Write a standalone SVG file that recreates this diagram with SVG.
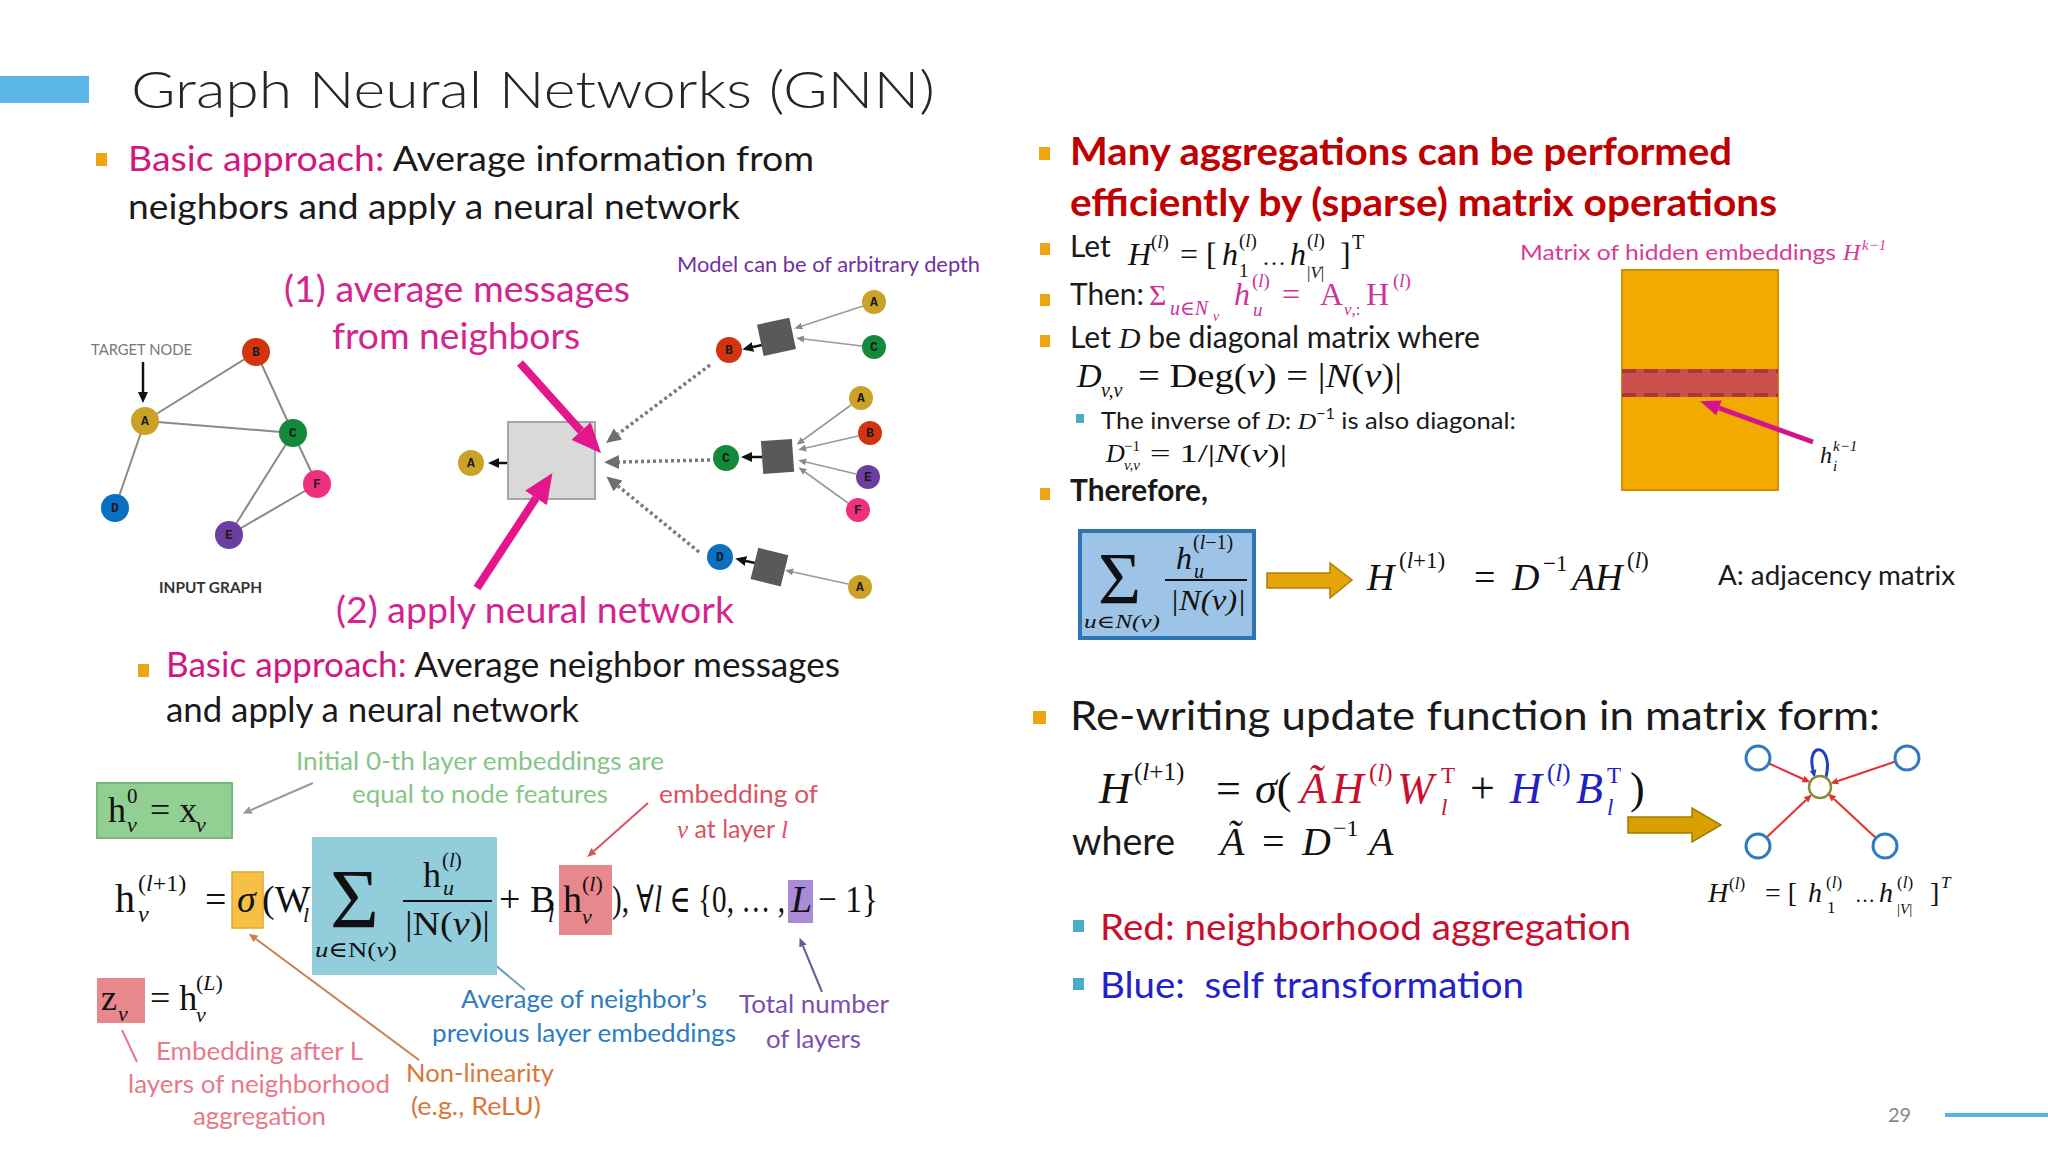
<svg xmlns="http://www.w3.org/2000/svg" width="2048" height="1152" viewBox="0 0 2048 1152">
<style>
.sans{font-family:Lato,"Open Sans","Liberation Sans",sans-serif}
.serif{font-family:"Liberation Serif","DejaVu Serif",serif}
.it{font-style:italic}
.bold{font-weight:bold}
.mag{fill:#D2177F}
.blk{fill:#1a1a1a}
.nl{font-family:"Liberation Mono","DejaVu Sans Mono",monospace;font-weight:bold;font-size:13px;fill:#1a1a1a;text-anchor:middle}
.edge{stroke:#8a8a8a;stroke-width:2;fill:none}
.dot{stroke:#7a7a7a;stroke-width:3.5;stroke-dasharray:3 3;fill:none}
.thin{stroke:#9a9a9a;stroke-width:1.6;fill:none}
.blkarr{stroke:#111;stroke-width:2.5;fill:none}
.magarr{stroke:#E3168C;stroke-width:8;fill:none}
.bul{fill:#EDA512}
.tbul{fill:#4BACC6}
.m{font-family:"Liberation Serif","DejaVu Serif",serif}
</style>
<defs>
<marker id="hMag" markerUnits="userSpaceOnUse" markerWidth="30" markerHeight="30" viewBox="0 0 30 30" refX="0" refY="15" orient="auto"><path d="M0,2 L30,15 L0,28 z" fill="#E3168C"/></marker>
<marker id="hMag2" markerUnits="userSpaceOnUse" markerWidth="20" markerHeight="20" viewBox="0 0 20 20" refX="0" refY="10" orient="auto"><path d="M0,2 L20,10 L0,18 z" fill="#D4148C"/></marker>
<marker id="hGray" markerUnits="userSpaceOnUse" markerWidth="16" markerHeight="16" viewBox="0 0 16 16" refX="0" refY="8" orient="auto"><path d="M0,1 L15,8 L0,15 z" fill="#6f6f6f"/></marker>
<marker id="hBlk" markerUnits="userSpaceOnUse" markerWidth="12" markerHeight="12" viewBox="0 0 12 12" refX="0" refY="6" orient="auto"><path d="M0,1 L11,6 L0,11 z" fill="#111"/></marker>
<marker id="hThin" markerUnits="userSpaceOnUse" markerWidth="9" markerHeight="9" viewBox="0 0 9 9" refX="0" refY="4.5" orient="auto"><path d="M0,1 L8,4.5 L0,8 z" fill="#8a8a8a"/></marker>
<marker id="hRed" markerUnits="userSpaceOnUse" markerWidth="9" markerHeight="9" viewBox="0 0 9 9" refX="0" refY="4.5" orient="auto"><path d="M0,1 L8,4.5 L0,8 z" fill="#E03030"/></marker>
<marker id="hBlue" markerUnits="userSpaceOnUse" markerWidth="9" markerHeight="9" viewBox="0 0 9 9" refX="0" refY="4.5" orient="auto"><path d="M0,1 L8,4.5 L0,8 z" fill="#1f3fc0"/></marker>
<marker id="hAnnGray" markerUnits="userSpaceOnUse" markerWidth="10" markerHeight="10" viewBox="0 0 10 10" refX="0" refY="5" orient="auto"><path d="M0,1 L9,5 L0,9 z" fill="#9a9a9a"/></marker>
<marker id="hAnnRed" markerUnits="userSpaceOnUse" markerWidth="10" markerHeight="10" viewBox="0 0 10 10" refX="0" refY="5" orient="auto"><path d="M0,1 L9,5 L0,9 z" fill="#D9535F"/></marker>
<marker id="hAnnOr" markerUnits="userSpaceOnUse" markerWidth="10" markerHeight="10" viewBox="0 0 10 10" refX="0" refY="5" orient="auto"><path d="M0,1 L9,5 L0,9 z" fill="#C98050"/></marker>
<marker id="hAnnPu" markerUnits="userSpaceOnUse" markerWidth="10" markerHeight="10" viewBox="0 0 10 10" refX="0" refY="5" orient="auto"><path d="M0,1 L9,5 L0,9 z" fill="#6a5a9a"/></marker>
</defs>

<rect width="2048" height="1152" fill="#ffffff"/>

<!-- Title -->
<g id="title">
<rect x="0" y="76" width="89" height="27" fill="#5DB6E8"/>
<text x="131" y="108" class="sans" font-size="52" font-weight="300" fill="#262626" textLength="804" lengthAdjust="spacingAndGlyphs">Graph Neural Networks (GNN)</text>
</g>

<!-- Left top bullet -->
<g id="left-intro">
<rect x="96" y="153" width="11" height="13" class="bul"/>
<text x="128" y="171" class="sans blk" font-size="34" textLength="686" lengthAdjust="spacingAndGlyphs"><tspan class="mag">Basic approach:</tspan> Average information from</text>
<text x="128" y="219" class="sans blk" font-size="34" textLength="612" lengthAdjust="spacingAndGlyphs">neighbors and apply a neural network</text>
<text x="284" y="302" class="sans" font-size="37" fill="#D4258F" textLength="346" lengthAdjust="spacingAndGlyphs">(1) average messages</text>
<text x="332" y="349" class="sans" font-size="37" fill="#D4258F" textLength="248" lengthAdjust="spacingAndGlyphs">from neighbors</text>
<text x="336" y="623" class="sans" font-size="37" fill="#D4258F" textLength="398" lengthAdjust="spacingAndGlyphs">(2) apply neural network</text>
<text x="677" y="272" class="sans" font-size="21" fill="#7030A0" textLength="303" lengthAdjust="spacingAndGlyphs">Model can be of arbitrary depth</text>
<text x="91" y="355" class="sans" font-size="15" fill="#777" textLength="101" lengthAdjust="spacingAndGlyphs">TARGET NODE</text>
<text x="159" y="593" class="sans bold" font-size="16" fill="#333" textLength="103" lengthAdjust="spacingAndGlyphs">INPUT GRAPH</text>
</g>

<!-- Connectors -->
<g id="connectors">
<line x1="145" y1="421" x2="256" y2="352" class="edge"/>
<line x1="145" y1="421" x2="293" y2="433" class="edge"/>
<line x1="256" y1="352" x2="293" y2="433" class="edge"/>
<line x1="145" y1="421" x2="115" y2="508" class="edge"/>
<line x1="293" y1="433" x2="317" y2="484" class="edge"/>
<line x1="293" y1="433" x2="229" y2="535" class="edge"/>
<line x1="229" y1="535" x2="317" y2="484" class="edge"/>
<line x1="143" y1="362" x2="143" y2="392" class="blkarr" stroke-width="1.8" marker-end="url(#hBlk)"/>
<line x1="710" y1="365" x2="618" y2="434" class="dot" marker-end="url(#hGray)"/>
<line x1="710" y1="460" x2="619" y2="462" class="dot" marker-end="url(#hGray)"/>
<line x1="699" y1="552" x2="618" y2="486" class="dot" marker-end="url(#hGray)"/>
<line x1="508" y1="463" x2="499" y2="463" class="blkarr" marker-end="url(#hBlk)"/>
<line x1="762" y1="345" x2="753" y2="347" class="blkarr" marker-end="url(#hBlk)"/>
<line x1="762" y1="457" x2="752" y2="457" class="blkarr" marker-end="url(#hBlk)"/>
<line x1="755" y1="563" x2="746" y2="561" class="blkarr" marker-end="url(#hBlk)"/>
<line x1="863" y1="306" x2="802" y2="326" class="thin" marker-end="url(#hThin)"/>
<line x1="862" y1="346" x2="804" y2="339" class="thin" marker-end="url(#hThin)"/>
<line x1="851" y1="405" x2="803" y2="440" class="thin" marker-end="url(#hThin)"/>
<line x1="858" y1="436" x2="806" y2="448" class="thin" marker-end="url(#hThin)"/>
<line x1="856" y1="474" x2="806" y2="462" class="thin" marker-end="url(#hThin)"/>
<line x1="848" y1="503" x2="805" y2="472" class="thin" marker-end="url(#hThin)"/>
<line x1="848" y1="584" x2="793" y2="572" class="thin" marker-end="url(#hThin)"/>
<line x1="313" y1="783" x2="251" y2="810" stroke="#9a9a9a" stroke-width="2" marker-end="url(#hAnnGray)"/>
<line x1="648" y1="803" x2="594" y2="851" stroke="#D9535F" stroke-width="2" marker-end="url(#hAnnRed)"/>
<line x1="419" y1="1060" x2="256" y2="939" stroke="#C98050" stroke-width="2" marker-end="url(#hAnnOr)"/>
<line x1="525" y1="990" x2="469" y2="943" stroke="#6CA0C0" stroke-width="2"/>
<line x1="822" y1="992" x2="803" y2="946" stroke="#6a5a9a" stroke-width="2" marker-end="url(#hAnnPu)"/>
<line x1="137" y1="1062" x2="122" y2="1030" stroke="#E8788A" stroke-width="2"/>
<line x1="1768" y1="763" x2="1803" y2="779" stroke="#E03030" stroke-width="2" marker-end="url(#hRed)"/>
<line x1="1897" y1="761" x2="1838" y2="781" stroke="#E03030" stroke-width="2" marker-end="url(#hRed)"/>
<line x1="1766" y1="838" x2="1806" y2="800" stroke="#E03030" stroke-width="2" marker-end="url(#hRed)"/>
<line x1="1877" y1="839" x2="1834" y2="799" stroke="#E03030" stroke-width="2" marker-end="url(#hRed)"/>
<path d="M1826,777 C1834,744 1806,740 1813,770" stroke="#1f3fc0" stroke-width="3" fill="none" marker-end="url(#hBlue)"/>
</g>

<!-- Input graph nodes -->
<g id="ig-A"><circle cx="145" cy="421" r="14" fill="#C9A227"/><text x="145" y="425" class="nl">A</text></g>
<g id="ig-B"><circle cx="256" cy="352" r="14" fill="#D2340F"/><text x="256" y="356" class="nl">B</text></g>
<g id="ig-C"><circle cx="293" cy="433" r="14" fill="#12893B"/><text x="293" y="437" class="nl">C</text></g>
<g id="ig-D"><circle cx="115" cy="508" r="14" fill="#0B6FC2"/><text x="115" y="512" class="nl">D</text></g>
<g id="ig-E"><circle cx="229" cy="535" r="14" fill="#6B3FA0"/><text x="229" y="539" class="nl">E</text></g>
<g id="ig-F"><circle cx="317" cy="484" r="14" fill="#F0307F"/><text x="317" y="488" class="nl">F</text></g>

<!-- Computation graph nodes -->
<g id="cg-A0"><circle cx="471" cy="463" r="13" fill="#C9A227"/><text x="471" y="467" class="nl">A</text></g>
<g id="cg-agg0"><rect x="508" y="422" width="87" height="77" fill="#D9D9D9" stroke="#a6a6a6" stroke-width="2"/></g>
<g id="cg-B1"><circle cx="729" cy="350" r="13" fill="#D2340F"/><text x="729" y="354" class="nl">B</text></g>
<g id="cg-C1"><circle cx="726" cy="458" r="13" fill="#12893B"/><text x="726" y="462" class="nl">C</text></g>
<g id="cg-D1"><circle cx="720" cy="557" r="13" fill="#0B6FC2"/><text x="720" y="561" class="nl">D</text></g>
<g id="cg-aggB"><rect x="760" y="321" width="33" height="32" fill="#595959" transform="rotate(-12 776 337)"/></g>
<g id="cg-aggC"><rect x="762" y="440" width="31" height="33" fill="#595959" transform="rotate(-4 777 456)"/></g>
<g id="cg-aggD"><rect x="754" y="551" width="31" height="32" fill="#595959" transform="rotate(14 769 567)"/></g>
<g id="cg-B-A"><circle cx="874" cy="302" r="12" fill="#C9A227"/><text x="874" y="306" class="nl">A</text></g>
<g id="cg-B-C"><circle cx="874" cy="347" r="12" fill="#12893B"/><text x="874" y="351" class="nl">C</text></g>
<g id="cg-C-A"><circle cx="861" cy="398" r="12" fill="#C9A227"/><text x="861" y="402" class="nl">A</text></g>
<g id="cg-C-B"><circle cx="870" cy="433" r="12" fill="#D2340F"/><text x="870" y="437" class="nl">B</text></g>
<g id="cg-C-E"><circle cx="868" cy="477" r="12" fill="#6B3FA0"/><text x="868" y="481" class="nl">E</text></g>
<g id="cg-C-F"><circle cx="858" cy="510" r="12" fill="#F0307F"/><text x="858" y="514" class="nl">F</text></g>
<g id="cg-D-A"><circle cx="860" cy="587" r="12" fill="#C9A227"/><text x="860" y="591" class="nl">A</text></g>

<!-- Second bullet -->
<g id="left-bullet2">
<rect x="138" y="664" width="11" height="13" class="bul"/>
<text x="166" y="677" class="sans blk" font-size="34" textLength="674" lengthAdjust="spacingAndGlyphs"><tspan class="mag">Basic approach:</tspan> Average neighbor messages</text>
<text x="166" y="722" class="sans blk" font-size="34" textLength="413" lengthAdjust="spacingAndGlyphs">and apply a neural network</text>
</g>

<!-- Annotations left -->
<g id="left-annotations" class="sans" font-size="25">
<text x="296" y="770" fill="#86C586" textLength="368" lengthAdjust="spacingAndGlyphs">Initial 0-th layer embeddings are</text>
<text x="352" y="803" fill="#86C586" textLength="256" lengthAdjust="spacingAndGlyphs">equal to node features</text>
<text x="659" y="803" fill="#D9535F" textLength="159" lengthAdjust="spacingAndGlyphs">embedding of</text>
<text x="677" y="838" fill="#D9535F"><tspan class="serif it">v</tspan> at layer <tspan class="serif it">l</tspan></text>
<text x="156" y="1060" fill="#E8788A" textLength="207" lengthAdjust="spacingAndGlyphs">Embedding after L</text>
<text x="128" y="1093" fill="#E8788A" textLength="262" lengthAdjust="spacingAndGlyphs">layers of neighborhood</text>
<text x="193" y="1125" fill="#E8788A" textLength="133" lengthAdjust="spacingAndGlyphs">aggregation</text>
<text x="406" y="1082" fill="#D9773A" textLength="148" lengthAdjust="spacingAndGlyphs">Non-linearity</text>
<text x="411" y="1115" fill="#D9773A" textLength="130" lengthAdjust="spacingAndGlyphs">(e.g., ReLU)</text>
<text x="461" y="1008" fill="#2E7BC0" textLength="246" lengthAdjust="spacingAndGlyphs">Average of neighbor’s</text>
<text x="432" y="1042" fill="#2E7BC0" textLength="304" lengthAdjust="spacingAndGlyphs">previous layer embeddings</text>
<text x="739" y="1013" fill="#7B4FB0" textLength="150" lengthAdjust="spacingAndGlyphs">Total number</text>
<text x="766" y="1048" fill="#7B4FB0" textLength="95" lengthAdjust="spacingAndGlyphs">of layers</text>
</g>

<!-- Left equations -->
<g id="eq-init">
<rect x="97" y="783" width="135" height="55" fill="#92CF92" stroke="#78B878" stroke-width="2"/>
<text x="108" y="822" class="m" font-size="36" fill="#111">h</text>
<text x="127" y="803" class="m" font-size="21" fill="#111">0</text>
<text x="127" y="832" class="m it" font-size="22" fill="#111">v</text>
<text x="150" y="822" class="m" font-size="36" fill="#111">= x</text>
<text x="196" y="832" class="m it" font-size="22" fill="#111">v</text>
</g>

<g id="eq-update">
<rect x="232" y="872" width="31" height="56" fill="#F6C046" stroke="#E0A830" stroke-width="1.5"/>
<rect x="312" y="837" width="185" height="138" fill="#92CDDC"/>
<rect x="559" y="865" width="53" height="70" fill="#E8878C"/>
<rect x="788" y="880" width="25" height="43" fill="#A98BD8"/>
<text x="115" y="912" class="m" font-size="40" fill="#111">h</text>
<text x="138" y="891" class="m" font-size="24" fill="#111">(<tspan class="it">l</tspan>+1)</text>
<text x="138" y="922" class="m it" font-size="24" fill="#111">v</text>
<text x="205" y="912" class="m" font-size="38" fill="#111">=</text>
<text x="237" y="912" class="m it" font-size="38" fill="#111">σ</text>
<text x="262" y="912" class="m" font-size="38" fill="#111">(W</text>
<text x="303" y="922" class="m it" font-size="22" fill="#111">l</text>
<text x="330" y="928" class="m" font-size="84" fill="#111">Σ</text>
<text x="315" y="957" class="m" font-size="22" fill="#111" textLength="82" lengthAdjust="spacingAndGlyphs"><tspan class="it">u</tspan>∈N(<tspan class="it">v</tspan>)</text>
<text x="423" y="887" class="m" font-size="36" fill="#111">h</text>
<text x="442" y="867" class="m" font-size="21" fill="#111">(<tspan class="it">l</tspan>)</text>
<text x="443" y="895" class="m it" font-size="22" fill="#111">u</text>
<line x1="403" y1="901" x2="492" y2="901" stroke="#111" stroke-width="2"/>
<text x="405" y="935" class="m" font-size="34" fill="#111" textLength="85" lengthAdjust="spacingAndGlyphs">|N(<tspan class="it">v</tspan>)|</text>
<text x="499" y="912" class="m" font-size="38" fill="#111">+ B</text>
<text x="548" y="922" class="m it" font-size="22" fill="#111">l</text>
<text x="563" y="912" class="m" font-size="38" fill="#111">h</text>
<text x="582" y="891" class="m" font-size="22" fill="#111">(<tspan class="it">l</tspan>)</text>
<text x="582" y="924" class="m it" font-size="22" fill="#111">v</text>
<text x="612" y="912" class="m" font-size="38" fill="#111" textLength="173" lengthAdjust="spacingAndGlyphs">), ∀<tspan class="it">l</tspan> ∈ {0, … ,</text>
<text x="791" y="912" class="m it" font-size="38" fill="#111">L</text>
<text x="818" y="912" class="m" font-size="38" fill="#111" textLength="60" lengthAdjust="spacingAndGlyphs">− 1}</text>
</g>

<g id="eq-zv">
<rect x="97" y="978" width="48" height="45" fill="#E8878C"/>
<text x="101" y="1010" class="m" font-size="36" fill="#111">z</text>
<text x="118" y="1021" class="m it" font-size="22" fill="#111">v</text>
<text x="150" y="1010" class="m" font-size="36" fill="#111">= h</text>
<text x="196" y="990" class="m" font-size="22" fill="#111">(<tspan class="it">L</tspan>)</text>
<text x="196" y="1022" class="m it" font-size="22" fill="#111">v</text>
</g>

<!-- Right column -->
<g id="right-top">
<rect x="1039" y="147" width="11" height="13" class="bul"/>
<text x="1070" y="165" class="sans bold" font-size="38" fill="#C00000" textLength="662" lengthAdjust="spacingAndGlyphs">Many aggregations can be performed</text>
<text x="1070" y="216" class="sans bold" font-size="38" fill="#C00000" textLength="707" lengthAdjust="spacingAndGlyphs">efficiently by (sparse) matrix operations</text>

<rect x="1040" y="243" width="10" height="12" class="bul"/>
<text x="1070" y="257" class="sans blk" font-size="30">Let</text>
<text x="1128" y="265" class="m it" font-size="32" fill="#111">H</text>
<text x="1151" y="248" class="m" font-size="19" fill="#111">(<tspan class="it">l</tspan>)</text>
<text x="1180" y="265" class="m" font-size="32" fill="#111">= [</text>
<text x="1222" y="265" class="m it" font-size="32" fill="#111">h</text>
<text x="1239" y="247" class="m" font-size="19" fill="#111">(<tspan class="it">l</tspan>)</text>
<text x="1239" y="277" class="m" font-size="19" fill="#111">1</text>
<text x="1262" y="265" class="m" font-size="24" fill="#111">…</text>
<text x="1290" y="265" class="m it" font-size="32" fill="#111">h</text>
<text x="1307" y="247" class="m" font-size="19" fill="#111">(<tspan class="it">l</tspan>)</text>
<text x="1307" y="278" class="m" font-size="17" fill="#111">|<tspan class="it">V</tspan>|</text>
<text x="1340" y="265" class="m" font-size="32" fill="#111">]</text>
<text x="1352" y="249" class="m" font-size="20" fill="#111">T</text>

<rect x="1040" y="294" width="10" height="12" class="bul"/>
<text x="1070" y="305" class="sans blk" font-size="30" textLength="74" lengthAdjust="spacingAndGlyphs">Then:</text>
<g fill="#CC3399">
<text x="1149" y="305" class="m" font-size="30">Σ</text>
<text x="1170" y="315" class="m it" font-size="20">u<tspan font-style="normal">∈</tspan>N</text>
<text x="1213" y="321" class="m it" font-size="14">v</text>
<text x="1234" y="305" class="m it" font-size="32">h</text>
<text x="1252" y="287" class="m" font-size="19">(<tspan class="it">l</tspan>)</text>
<text x="1253" y="316" class="m it" font-size="19">u</text>
<text x="1282" y="305" class="m" font-size="32">=</text>
<text x="1320" y="305" class="m" font-size="32">A</text>
<text x="1344" y="315" class="m" font-size="17"><tspan class="it">v</tspan>,:</text>
<text x="1366" y="305" class="m" font-size="32">H</text>
<text x="1393" y="287" class="m" font-size="19">(<tspan class="it">l</tspan>)</text>
</g>

<rect x="1040" y="335" width="10" height="12" class="bul"/>
<text x="1070" y="348" class="sans blk" font-size="30" textLength="410" lengthAdjust="spacingAndGlyphs">Let <tspan class="serif it">D</tspan> be diagonal matrix where</text>
<text x="1077" y="387" class="m it" font-size="34" fill="#111">D</text>
<text x="1101" y="397" class="m it" font-size="20" fill="#111">v,v</text>
<text x="1138" y="387" class="m" font-size="34" fill="#111" textLength="264" lengthAdjust="spacingAndGlyphs">= Deg(<tspan class="it">v</tspan>) = |<tspan class="it">N</tspan>(<tspan class="it">v</tspan>)|</text>

<rect x="1076" y="414" width="8" height="9" class="tbul"/>
<text x="1101" y="429" class="sans blk" font-size="24" textLength="415" lengthAdjust="spacingAndGlyphs">The inverse of <tspan class="serif it">D</tspan>: <tspan class="serif it">D</tspan><tspan dy="-10" font-size="15">−1</tspan><tspan dy="10"> is also diagonal:</tspan></text>
<text x="1106" y="462" class="m it" font-size="26" fill="#111">D</text>
<text x="1124" y="451" class="m" font-size="15" fill="#111">−1</text>
<text x="1124" y="470" class="m it" font-size="15" fill="#111">v,v</text>
<text x="1150" y="462" class="m" font-size="26" fill="#111" textLength="137" lengthAdjust="spacingAndGlyphs">= 1/|<tspan class="it">N</tspan>(<tspan class="it">v</tspan>)|</text>

<rect x="1040" y="488" width="10" height="12" class="bul"/>
<text x="1070" y="501" class="sans bold blk" font-size="30" textLength="138" lengthAdjust="spacingAndGlyphs">Therefore,</text>
</g>

<g id="matrix">
<text x="1520" y="260" class="sans" font-size="22" fill="#D63C96" textLength="316" lengthAdjust="spacingAndGlyphs">Matrix of hidden embeddings</text>
<text x="1843" y="260" class="m it" font-size="24" fill="#D63C96">H</text>
<text x="1862" y="250" class="m it" font-size="15" fill="#D63C96">k−1</text>
<rect x="1622" y="270" width="156" height="220" fill="#F2A900" stroke="#D48F00" stroke-width="2"/>
<rect x="1622" y="369" width="156" height="28" fill="#C9504C"/>
<line x1="1622" y1="371" x2="1778" y2="371" stroke="#A83838" stroke-width="4" stroke-dasharray="14 8"/>
<line x1="1622" y1="395" x2="1778" y2="395" stroke="#A83838" stroke-width="4" stroke-dasharray="14 8"/>
<text x="1820" y="463" class="m it" font-size="24" fill="#111">h</text>
<text x="1833" y="451" class="m it" font-size="15" fill="#111">k−1</text>
<text x="1833" y="471" class="m it" font-size="15" fill="#111">i</text>
</g>

<g id="eq-matrix-avg">
<rect x="1080" y="531" width="174" height="107" fill="#9DC3E6" stroke="#2E75B6" stroke-width="4"/>
<text x="1098" y="604" class="m" font-size="74" fill="#111">Σ</text>
<text x="1084" y="628" class="m it" font-size="18" fill="#111" textLength="76" lengthAdjust="spacingAndGlyphs">u<tspan font-style="normal">∈</tspan>N(v)</text>
<text x="1176" y="569" class="m it" font-size="32" fill="#111">h</text>
<text x="1193" y="549" class="m" font-size="20" fill="#111">(<tspan class="it">l</tspan>−1)</text>
<text x="1194" y="578" class="m it" font-size="20" fill="#111">u</text>
<line x1="1165" y1="580" x2="1247" y2="580" stroke="#111" stroke-width="2"/>
<text x="1170" y="610" class="m it" font-size="30" fill="#111" textLength="76" lengthAdjust="spacingAndGlyphs">|N(v)|</text>
<polygon points="1267,573 1330,573 1330,563 1352,580 1330,598 1330,588 1267,588" fill="#E5A50A" stroke="#B07F00" stroke-width="1.5"/>
<text x="1367" y="590" class="m it" font-size="38" fill="#111">H</text>
<text x="1399" y="568" class="m" font-size="23" fill="#111">(<tspan class="it">l</tspan>+1)</text>
<text x="1474" y="590" class="m" font-size="38" fill="#111">=</text>
<text x="1512" y="590" class="m it" font-size="38" fill="#111">D</text>
<text x="1543" y="571" class="m" font-size="23" fill="#111">−1</text>
<text x="1572" y="590" class="m it" font-size="38" fill="#111">AH</text>
<text x="1627" y="568" class="m" font-size="23" fill="#111">(<tspan class="it">l</tspan>)</text>
<text x="1718" y="585" class="sans blk" font-size="27" textLength="237" lengthAdjust="spacingAndGlyphs">A: adjacency matrix</text>
</g>

<g id="right-rewrite">
<rect x="1033" y="711" width="13" height="13" class="bul"/>
<text x="1070" y="730" class="sans blk" font-size="40" textLength="810" lengthAdjust="spacingAndGlyphs">Re-writing update function in matrix form:</text>
<text x="1099" y="803" class="m it" font-size="44" fill="#111">H</text>
<text x="1134" y="780" class="m" font-size="25" fill="#111">(<tspan class="it">l</tspan>+1)</text>
<text x="1216" y="803" class="m" font-size="44" fill="#111">=</text>
<text x="1255" y="803" class="m" font-size="44" fill="#111"><tspan class="it">σ</tspan>(</text>
<g fill="#C8102E">
<text x="1300" y="803" class="m it" font-size="44">Ã</text>
<text x="1332" y="803" class="m it" font-size="44">H</text>
<text x="1369" y="781" class="m" font-size="25">(<tspan class="it">l</tspan>)</text>
<text x="1397" y="803" class="m it" font-size="44">W</text>
<text x="1441" y="783" class="m" font-size="23">T</text>
<text x="1441" y="815" class="m it" font-size="23">l</text>
</g>
<text x="1470" y="803" class="m" font-size="44" fill="#111">+</text>
<g fill="#2020C8">
<text x="1510" y="803" class="m it" font-size="44">H</text>
<text x="1547" y="781" class="m" font-size="25">(<tspan class="it">l</tspan>)</text>
<text x="1576" y="803" class="m it" font-size="44">B</text>
<text x="1607" y="783" class="m" font-size="23">T</text>
<text x="1607" y="815" class="m it" font-size="23">l</text>
</g>
<text x="1630" y="803" class="m" font-size="44" fill="#111">)</text>
<text x="1072" y="855" class="sans blk" font-size="38" textLength="103" lengthAdjust="spacingAndGlyphs">where</text>
<text x="1220" y="855" class="m it" font-size="40" fill="#111">Ã</text>
<text x="1262" y="855" class="m" font-size="40" fill="#111">=</text>
<text x="1302" y="855" class="m it" font-size="40" fill="#111">D</text>
<text x="1333" y="836" class="m" font-size="24" fill="#111">−1</text>
<text x="1369" y="855" class="m it" font-size="40" fill="#111">A</text>
<polygon points="1628,817 1692,817 1692,808 1721,825 1692,842 1692,833 1628,833" fill="#D9A000" stroke="#A07800" stroke-width="1.5"/>
<rect x="1073" y="920" width="11" height="12" class="tbul"/>
<text x="1100" y="940" class="sans" font-size="37" fill="#C8102E" textLength="531" lengthAdjust="spacingAndGlyphs">Red: neighborhood aggregation</text>
<rect x="1073" y="978" width="11" height="12" class="tbul"/>
<text x="1100" y="998" class="sans" font-size="37" fill="#2222CC" xml:space="preserve" textLength="424" lengthAdjust="spacingAndGlyphs">Blue:  self transformation</text>
<text x="1708" y="902" class="m it" font-size="28" fill="#111">H</text>
<text x="1729" y="889" class="m" font-size="17" fill="#111">(<tspan class="it">l</tspan>)</text>
<text x="1765" y="902" class="m" font-size="28" fill="#111">= [</text>
<text x="1808" y="902" class="m it" font-size="28" fill="#111">h</text>
<text x="1826" y="888" class="m" font-size="17" fill="#111">(<tspan class="it">l</tspan>)</text>
<text x="1827" y="913" class="m" font-size="17" fill="#111">1</text>
<text x="1855" y="902" class="m" font-size="20" fill="#111">…</text>
<text x="1879" y="902" class="m it" font-size="28" fill="#111">h</text>
<text x="1897" y="888" class="m" font-size="17" fill="#111">(<tspan class="it">l</tspan>)</text>
<text x="1897" y="914" class="m" font-size="15" fill="#111">|<tspan class="it">V</tspan>|</text>
<text x="1930" y="902" class="m" font-size="28" fill="#111">]</text>
<text x="1941" y="888" class="m it" font-size="17" fill="#111">T</text>
</g>

<!-- Star graph nodes -->
<g id="star-center"><circle cx="1820" cy="787" r="11" fill="#fff" stroke="#8C8A3A" stroke-width="2.5"/></g>
<g id="star-tl"><circle cx="1758" cy="758" r="12" fill="#fff" stroke="#2E7BC0" stroke-width="3"/></g>
<g id="star-tr"><circle cx="1907" cy="758" r="12" fill="#fff" stroke="#2E7BC0" stroke-width="3"/></g>
<g id="star-bl"><circle cx="1758" cy="846" r="12" fill="#fff" stroke="#2E7BC0" stroke-width="3"/></g>
<g id="star-br"><circle cx="1885" cy="846" r="12" fill="#fff" stroke="#2E7BC0" stroke-width="3"/></g>

<!-- Pointer arrows drawn on top of shapes -->
<g id="connectors-overlay">
<line x1="520" y1="363" x2="581" y2="431" class="magarr" marker-end="url(#hMag)"/>
<line x1="477" y1="588" x2="536" y2="498" class="magarr" marker-end="url(#hMag)"/>
<line x1="1813" y1="442" x2="1719" y2="408" stroke="#D4148C" stroke-width="5" marker-end="url(#hMag2)"/>
</g>

<!-- footer -->
<g id="footer">
<text x="1888" y="1122" class="sans" font-size="20" fill="#888">29</text>
<line x1="1945" y1="1115" x2="2048" y2="1115" stroke="#59B4E6" stroke-width="4"/>
</g>
</svg>
